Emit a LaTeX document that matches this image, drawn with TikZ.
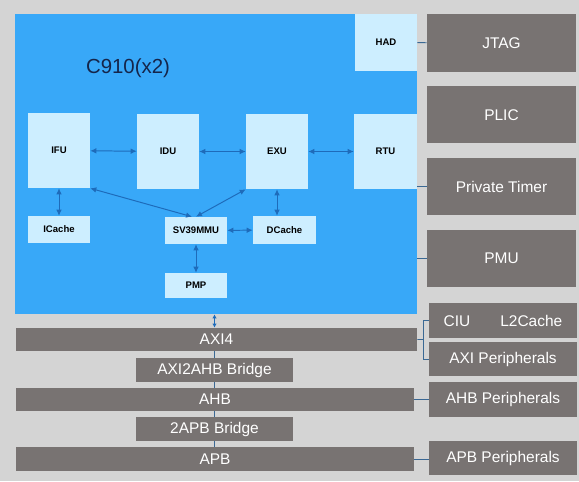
\documentclass[tikz,border=0pt]{standalone}
\usepackage{fontspec}
\setmainfont{Liberation Sans}
\usetikzlibrary{arrows.meta,positioning,calc}
\definecolor{Fondo}{HTML}{D4D4D4}
\definecolor{Nucleo}{HTML}{38A8F8}
\definecolor{Unidad}{HTML}{CDEEFF}
\definecolor{Bloque}{HTML}{787372}
\definecolor{Flecha}{HTML}{1E6BBA}
\definecolor{Enlace}{HTML}{3A6894}
\definecolor{Titulo}{HTML}{15254A}

\begin{document}
\begin{tikzpicture}[x=0.025cm,y=-0.025cm,node distance=0.35cm,
        nucleo/.style={fill=Nucleo,inner sep=0pt},
        unidad/.style={fill=Unidad,inner sep=0pt,minimum width=1.55cm,font=\fontsize{6.8}{7}\selectfont\bfseries,text=black},
        bloque/.style={fill=Bloque,inner sep=0pt,minimum width=3.725cm,minimum height=1.43cm,font=\fontsize{11}{13}\selectfont,text=white},
        bus/.style={fill=Bloque,inner sep=0pt,minimum height=0.58cm,font=\fontsize{11}{13}\selectfont,text=white},
        periferico/.style={fill=Bloque,inner sep=0pt,minimum width=3.7cm,font=\fontsize{11}{13}\selectfont,text=white},
        flecha/.style={{Latex[length=1.5mm,width=1.4mm]}-{Latex[length=1.5mm,width=1.4mm]},draw=Flecha,line width=0.7pt},
        enlace/.style={draw=Enlace,line width=0.6pt}]
        \fill[Fondo] (0,0) rectangle (579,481);
        % core
        \node[nucleo,minimum width=10.05cm,minimum height=7.5cm] (core) at (216,164) {};
        \node[font=\fontsize{14.5}{16}\selectfont,text=Titulo] (titulo) at (128,68) {C910(x2)};
        \node[unidad,minimum height=1.425cm] (had) at (386,42.5) {HAD};
        \node[unidad,minimum height=1.875cm] (ifu) at (59,150.5) {IFU};
        \node[unidad,minimum height=1.875cm] (idu) at (168,151.5) {IDU};
        \node[unidad,minimum height=1.875cm] (exu) at (277,151.5) {EXU};
        \node[unidad,minimum height=1.875cm,minimum width=1.575cm] (rtu) at (385.5,151.5) {RTU};
        \node[unidad,minimum height=0.675cm] (icache) at (59,229.5) {ICache};
        \node[unidad,minimum height=0.675cm] (mmu) at (196,230.5) {SV39MMU};
        \node[unidad,minimum height=0.7cm,minimum width=1.575cm] (dcache) at (284.5,230) {DCache};
        \node[unidad,minimum height=0.625cm] (pmp) at (196,285.5) {PMP};
        % right column
        \node[bloque] (jtag) at (501.5,43) {JTAG};
        \node[bloque,below=of jtag] (plic) {PLIC};
        \node[bloque,below=of plic] (timer) {Private Timer};
        \node[bloque,below=of timer] (pmu) {PMU};
        % buses
        \node[bus,minimum width=10.025cm] (axi) at (216.5,339.5) {AXI4};
        \node[bus,minimum width=3.925cm,minimum height=0.6cm] (brg1) at (214.5,370) {AXI2AHB Bridge};
        \node[bus,minimum width=9.95cm] (ahb) at (215,399.5) {AHB};
        \node[bus,minimum width=3.925cm,minimum height=0.6cm] (brg2) at (214.5,429) {2APB Bridge};
        \node[bus,minimum width=9.95cm,minimum height=0.6cm] (apb) at (215,459) {APB};
        \node[periferico,minimum height=0.875cm] (ciu) at (503,320.5) {CIU\hspace{0.75cm}L2Cache};
        \node[periferico,minimum height=0.85cm] (axip) at (503,359) {AXI Peripherals};
        \node[periferico,minimum height=0.875cm] (ahbp) at (503,399.5) {AHB Peripherals};
        \node[periferico,minimum height=0.85cm] (apbp) at (503,458) {APB Peripherals};
        % arrows inside the core
        \draw[flecha] (ifu) -- (idu);\draw[flecha] (idu) -- (exu);\draw[flecha] (exu) -- (rtu);
        \draw[flecha] (ifu) -- (icache);\draw[flecha] (exu.south) -- (exu.south |- dcache.north);
        \draw[flecha] (ifu.south east) -- ([xshift=-0.1cm]mmu.north);\draw[flecha] (exu.south west) -- (mmu.north);
        \draw[flecha] (mmu) -- (dcache);\draw[flecha] (mmu) -- (pmp);
        \draw[{Latex[length=1mm,width=1.1mm]}-{Latex[length=1mm,width=1.1mm]},draw=Flecha,line width=0.6pt] (core.south -| brg1.north) -- (axi.north -| brg1.north);
        % links
        \draw[enlace] (had) -- (jtag);
        \draw[enlace] ($(plic.west)+(0,3)$) -- ($(plic.west)+(0,3)$ -| core.east);
        \draw[enlace] (timer.west) -- (timer.west -| core.east);
        \draw[enlace] (pmu.west) -- (pmu.west -| core.east);
        \draw[enlace] (brg1.north) -- (brg1.north |- axi.south);\draw[enlace] (brg1.south) -- (brg1.south |- ahb.north);
        \draw[enlace] (brg2.north) -- (brg2.north |- ahb.south);\draw[enlace] (brg2.south) -- (brg2.south |- apb.north);
        \coordinate (llave) at ($(axi.east)!0.55!(axi.east -| ciu.west)$);
        \draw[enlace] (ciu.west) -| (llave) |- (axip.west);\draw[enlace] (axi.east) -- (llave);
        \draw[enlace] (ahb.east) -- (ahb.east -| ahbp.west);
        \draw[enlace] (apb.east) -- (apb.east -| apbp.west);
      \end{tikzpicture}
\end{document}
